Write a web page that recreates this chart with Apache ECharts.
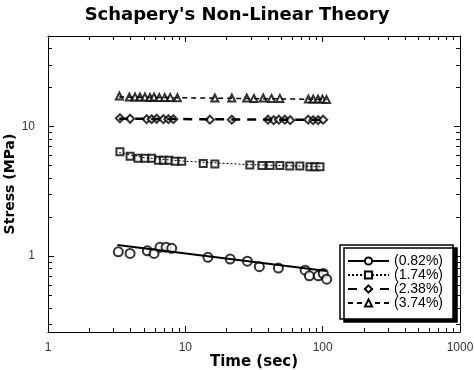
<!DOCTYPE html>
<html><head><meta charset="utf-8">
<script src="https://cdn.jsdelivr.net/npm/echarts@6/dist/echarts.min.js"></script>
<style>html,body{margin:0;padding:0;background:#fff}#c{width:474px;height:370px}</style>
</head><body><div id="c"></div>
<script>
// ---- tick labels ----
const xMajorTicks = [1, 10, 100, 1000];
const xMinorTicks = [2,3,4,5,6,7,8,9,20,30,40,50,60,70,80,90,200,300,400,500,600,700,800,900];
const yMajorTicks = [1, 10];
const yMinorTicks = [0.3,0.4,0.5,0.6,0.7,0.8,0.9,2,3,4,5,6,7,8,9,20,30,40];

// ---- legend names ----
const seriesNames = ['(0.82%)', '(1.74%)', '(2.38%)', '(3.74%)'];

// ---- 0.82% : measured points ----
const time082 = [3.25, 3.96, 5.29, 5.92, 6.54, 7.24, 7.96, 14.6, 21.2, 28.3, 34.6, 47.6, 74.5, 80.0, 93.0, 101, 107];
const stress082 = [1.08, 1.05, 1.10, 1.05, 1.17, 1.17, 1.15, 0.98, 0.95, 0.915, 0.83, 0.81, 0.78, 0.705, 0.705, 0.735, 0.665];
// 0.82% : theory curve
const fitTime082 = [3.2, 107];
const fitStress082 = [1.22, 0.77];

// ---- 1.74% ----
const time174 = [3.34, 3.96, 4.52, 5.09, 5.70, 6.36, 6.92, 7.6, 8.42, 9.41, 13.5, 16.4, 29.5, 36.1, 41.4, 48.8, 57.6, 68.2, 80.8, 87.9, 95.6];
const stress174 = [6.4, 5.9, 5.7, 5.7, 5.7, 5.5, 5.5, 5.5, 5.4, 5.4, 5.2, 5.15, 5.05, 5.0, 5.0, 5.0, 4.97, 4.97, 4.9, 4.9, 4.9];
const fitTime174 = [3.3, 5, 10, 30, 100];
const fitStress174 = [6.3, 5.75, 5.4, 5.08, 4.9];

// ---- 2.38% ----
const time238 = [3.34, 3.96, 5.23, 5.69, 6.19, 6.92, 7.53, 8.18, 15.1, 21.8, 40.0, 44.0, 48.0, 53.0, 58.0, 78.5, 85.3, 92.7, 100.8];
const stress238 = [11.6, 11.5, 11.4, 11.4, 11.5, 11.4, 11.4, 11.4, 11.3, 11.3, 11.3, 11.2, 11.3, 11.3, 11.2, 11.3, 11.2, 11.2, 11.3];
const fitTime238 = [3.3, 105];
const fitStress238 = [11.5, 11.25];

// ---- 3.74% ----
const time374 = [3.31, 3.91, 4.30, 4.67, 5.08, 5.53, 5.92, 6.46, 7.07, 7.76, 8.75, 16.4, 21.8, 28.0, 31.6, 36.9, 42.4, 48.8, 78.8, 85.4, 92.6, 99.7, 106.6];
const stress374 = [17.2, 16.9, 16.9, 16.9, 16.9, 16.8, 16.9, 16.8, 16.8, 16.8, 16.7, 16.6, 16.6, 16.6, 16.5, 16.6, 16.5, 16.5, 16.3, 16.3, 16.3, 16.3, 16.2];
const fitTime374 = [3.3, 107];
const fitStress374 = [16.9, 16.2];

const zip = (a, b) => a.map((v, i) => [v, b[i]]);

const axisBlack = { color: '#000', width: 1 };
const labelFont = { fontFamily: 'Liberation Sans', fontSize: 12, color: '#333' };
const fmt = v => String(Math.round(v * 100) / 100);

function xAx(position, ticks, len, line, labels, extra) {
  return Object.assign({
    type: 'log', min: 1, max: 1000, position: position, gridIndex: 0,
    axisLine: { show: line, onZero: false, lineStyle: axisBlack },
    axisTick: { show: true, inside: true, length: len, customValues: ticks, lineStyle: axisBlack },
    axisLabel: labels ? Object.assign({ customValues: ticks, margin: 10, formatter: fmt }, labelFont) : { show: false },
    splitLine: { show: false }, minorTick: { show: false }
  }, extra || {});
}
function yAx(position, ticks, len, line, labels, extra) {
  return Object.assign({
    type: 'log', min: 0.26, max: 50, position: position, gridIndex: 0,
    axisLine: { show: line, onZero: false, lineStyle: axisBlack },
    axisTick: { show: true, inside: true, length: len, customValues: ticks, lineStyle: axisBlack },
    axisLabel: labels ? Object.assign({ customValues: ticks, margin: 13, formatter: fmt }, labelFont) : { show: false },
    splitLine: { show: false }, minorTick: { show: false }
  }, extra || {});
}

const styles = [
  { symbol: 'emptyCircle', size: 9, line: { type: 'solid', width: 2 } },
  { symbol: 'emptyRect', size: 7, line: { type: [2, 2], width: 1 } },
  { symbol: 'emptyDiamond', size: 8, line: { type: [9, 7], width: 2.5 } },
  { symbol: 'emptyTriangle', size: 7, line: { type: [5, 4], width: 1.5 } }
];
const pts = [zip(time082, stress082), zip(time174, stress174), zip(time238, stress238), zip(time374, stress374)];
const fits = [zip(fitTime082, fitStress082), zip(fitTime174, fitStress174), zip(fitTime238, fitStress238), zip(fitTime374, fitStress374)];

const series = [];
pts.forEach((d, i) => {
  series.push({
    name: 'pts' + i, type: 'scatter', data: d, symbol: styles[i].symbol, symbolSize: styles[i].size,
    itemStyle: { color: '#000', borderWidth: 1 }, z: 2, silent: true
  });
});
fits.forEach((d, i) => {
  series.push({
    name: seriesNames[i], type: 'line', data: d, symbol: styles[i].symbol, symbolSize: styles[i].size,
    showSymbol: false, smooth: false,
    lineStyle: Object.assign({ color: '#000' }, styles[i].line),
    itemStyle: { color: '#000', borderWidth: 1 }, z: 3, silent: true
  });
});

const chart = echarts.init(document.getElementById('c'), null, { renderer: 'canvas' });
chart.setOption({
  animation: false,
  backgroundColor: '#fff',
  title: {
    text: "Schapery's Non-Linear Theory", left: 'center', top: 1,
    textStyle: { fontFamily: 'DejaVu Sans', fontWeight: 'bold', fontSize: 18, color: '#000' }
  },
  grid: { left: 48, right: 14, top: 36, bottom: 38, containLabel: false, outerBoundsMode: 'none' },
  xAxis: [
    xAx('bottom', xMajorTicks, 6, true, true, {
      name: 'Time (sec)', nameLocation: 'middle', nameGap: 23, nameMoveOverlap: false,
      nameTextStyle: { fontFamily: 'DejaVu Sans', fontWeight: 'bold', fontSize: 15, color: '#000' }
    }),
    xAx('bottom', xMinorTicks, 4, false, false),
    xAx('top', xMajorTicks, 6, true, false),
    xAx('top', xMinorTicks, 4, false, false)
  ],
  yAxis: [
    yAx('left', yMajorTicks, 6, true, true, {
      name: 'Stress (MPa)', nameLocation: 'middle', nameGap: 31, nameRotate: 90, nameMoveOverlap: false,
      nameTextStyle: { fontFamily: 'DejaVu Sans', fontWeight: 'bold', fontSize: 14, color: '#000' }
    }),
    yAx('left', yMinorTicks, 4, false, false),
    yAx('right', yMajorTicks, 6, true, false),
    yAx('right', yMinorTicks, 4, false, false)
  ],
  legend: {
    data: seriesNames, orient: 'vertical', left: 340, top: 245,
    padding: [9, 10, 9, 7], itemWidth: 41, itemHeight: 9, itemGap: 0,
    backgroundColor: '#fff', borderColor: '#000', borderWidth: 1.5,
    shadowColor: '#000', shadowBlur: 0, shadowOffsetX: 4, shadowOffsetY: 3,
    textStyle: { fontFamily: 'Liberation Sans', fontSize: 14, color: '#000', lineHeight: 13 },
    selectedMode: false
  },
  series: series
});
</script></body></html>
